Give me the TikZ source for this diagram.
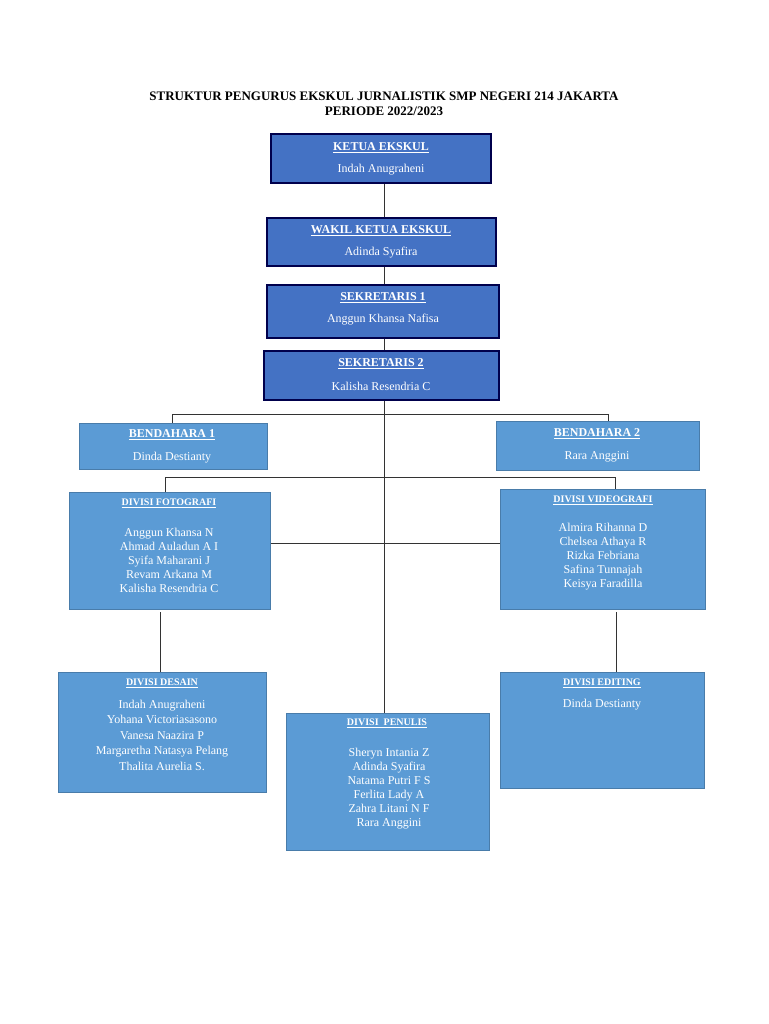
\documentclass[tikz,border=0pt]{standalone}
\usepackage{fontspec}
\setmainfont{Liberation Serif}
\begin{document}
\begin{tikzpicture}[x=1pt,y=-1pt,
 top/.style={draw=black!70!blue, line width=1.2pt, fill=topblue},
 box/.style={draw=boxblue!80!black, line width=0.4pt, fill=boxblue},
 hd/.style={text=white, font=\bfseries\fontsize{12}{14}\selectfont, anchor=center},
 sh/.style={text=white, font=\bfseries\fontsize{10}{12}\selectfont, anchor=center},
 nm/.style={text=white, font=\fontsize{12}{14}\selectfont, anchor=center},
 ln/.style={draw=black!80, line width=1pt}]
\definecolor{topblue}{HTML}{4472C4}
\definecolor{boxblue}{HTML}{5B9BD5}
\useasboundingbox[fill=white] (0,0) rectangle (768,1024);
\newcommand{\ul}[1]{\underline{#1}}
\node[font=\bfseries\fontsize{13}{15}\selectfont,align=center] (title) at (384,104) {STRUKTUR PENGURUS EKSKUL JURNALISTIK SMP NEGERI 214 JAKARTA\\PERIODE 2022/2023};
% connectors first
\coordinate (c0) at (384,183);
\coordinate (c1) at (384,713);
\draw[ln] (c0) -- (c1);
\coordinate (b1l) at (172,423); \coordinate (b1r) at (608,421);
\draw[ln] (b1l) -- (172,414) -- (608,414) -- (b1r);
\coordinate (b2l) at (165,492); \coordinate (b2r) at (615,489);
\draw[ln] (b2l) -- (165,477) -- (615,477) -- (b2r);
\coordinate (ml) at (270,543); \coordinate (mr) at (500,543);
\draw[ln] (ml) -- (mr);
\coordinate (dl1) at (160,612); \coordinate (dl2) at (160,672);
\draw[ln] (dl1) -- (dl2);
\coordinate (dr1) at (616,612); \coordinate (dr2) at (616,672);
\draw[ln] (dr1) -- (dr2);
% top boxes
\draw[top] (271,134) rectangle (491,183);
\node[hd] (k1) at (381,148) {\ul{KETUA EKSKUL}};
\node[nm] (k2) at (381,170) {Indah Anugraheni};
\draw[top] (267,218) rectangle (496,266);
\node[hd] (w1) at (381,231) {\ul{WAKIL KETUA EKSKUL}};
\node[nm] (w2) at (381,253) {Adinda Syafira};
\draw[top] (267,285) rectangle (499,338);
\node[hd] (s1) at (383,298) {\ul{SEKRETARIS 1}};
\node[nm] (s1n) at (383,320) {Anggun Khansa Nafisa};
\draw[top] (264,351) rectangle (499,400);
\node[hd] (s2) at (381,364) {\ul{SEKRETARIS 2}};
\node[nm] (s2n) at (381,386) {Kalisha Resendria C};
% bendahara
\draw[box] (79,423) rectangle (267,469);
\node[hd] (bd1) at (172,435) {\ul{BENDAHARA 1}};
\node[nm] (bd1n) at (172,458) {Dinda Destianty};
\draw[box] (496,421) rectangle (699,470);
\node[hd] (bd2) at (597,434) {\ul{BENDAHARA 2}};
\node[nm] (bd2n) at (597,457) {Rara Anggini};
% fotografi
\draw[box] (69,492) rectangle (270,609);
\node[sh] (f0) at (169,503) {\ul{DIVISI FOTOGRAFI}};
\node[nm,align=center] (f1) at (169,560) {Anggun Khansa N\\Ahmad Auladun A I\\Syifa Maharani J\\Revam Arkana M\\Kalisha Resendria C};
% videografi
\draw[box] (500,489) rectangle (705,609);
\node[sh] (v0) at (603,500) {\ul{DIVISI VIDEOGRAFI}};
\node[nm,align=center] (v1) at (603,557) {Almira Rihanna D\\Chelsea Athaya R\\Rizka Febriana\\Safina Tunnajah\\Keisya Faradilla};
% desain
\draw[box] (58,672) rectangle (266,792);
\node[sh] (d0) at (162,683) {\ul{DIVISI DESAIN}};
\node[nm,align=center,font=\fontsize{12}{15.5}\selectfont] (d1) at (162,735) {Indah Anugraheni\\Yohana Victoriasasono\\Vanesa Naazira P\\Margaretha Natasya Pelang\\Thalita Aurelia S.};
% penulis
\draw[box] (286,713) rectangle (489,850);
\node[sh] (p0) at (387,723) {\ul{DIVISI\ \ PENULIS}};
\node[nm,align=center] (p1) at (389,789) {Sheryn Intania Z\\Adinda Syafira\\Natama Putri F S\\Ferlita Lady A\\Zahra Litani N F\\Rara Anggini};
% editing
\draw[box] (500,672) rectangle (704,788);
\node[sh] (e0) at (602,683) {\ul{DIVISI EDITING}};
\node[nm] (e1) at (602,705) {Dinda Destianty};
\end{tikzpicture}
\end{document}
